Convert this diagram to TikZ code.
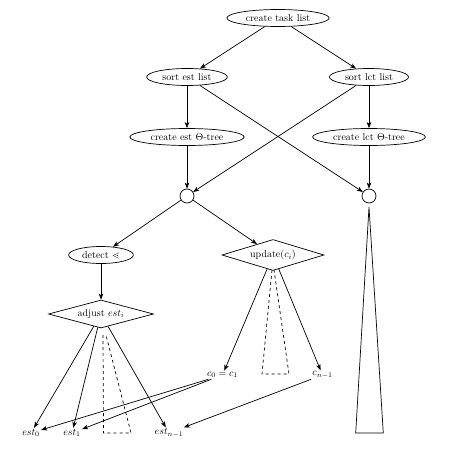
\documentclass[tikz,border=0pt]{standalone}
\usepackage{amssymb}
\usetikzlibrary{shapes.geometric,arrows.meta}
\begin{document}
\begin{tikzpicture}[x=1pt,y=-1pt,
  line width=0.7pt,
  oval/.style={draw,ellipse,inner xsep=4pt,inner ysep=1pt,minimum height=17pt},
  dia/.style={draw,diamond,inner sep=0pt},
  junc/.style={draw,circle,minimum size=14pt,inner sep=0pt},
  lbl/.style={inner sep=1pt},
  arr/.style={-{Stealth[length=6pt,width=4.5pt,inset=1.5pt]}},
  ghost/.style={dashed}
]
\useasboundingbox (0,0) rectangle (474,474);
\node[oval] (task) at (278,18) {create task list};
\node[oval] (sest) at (187,77) {sort est list};
\node[oval] (slct) at (369,77) {sort lct list};
\node[oval] (test) at (187,137) {create est $\Theta$-tree};
\node[oval] (tlct) at (369,137) {create lct $\Theta$-tree};
\node[junc] (cl) at (187,196) {};
\node[junc] (cr) at (369,196) {};
\node[oval] (det) at (101,255) {detect $\lessdot$};
\node[dia,aspect=3.3,minimum width=102pt,minimum height=31pt] (upd) at (273,255) {update($c_i$)};
\node[dia,aspect=3.75,minimum width=105pt,minimum height=28pt] (adj) at (101,314) {adjust $est_i$};
\node[lbl] (e0) at (31,433) {$est_0$};
\node[lbl] (e1) at (72,433) {$est_1$};
\node[lbl] (en) at (169,433) {$est_{n-1}$};
\node[lbl] (c01) at (222.5,375) {$c_0=c_1$};
\node[lbl] (cn) at (322.5,375) {$c_{n-1}$};
\coordinate (tapex) at (369,207);
\coordinate (tbl) at (355.7,433);
\coordinate (tbr) at (383.3,433);

\draw[arr] (task) -- (sest);
\draw[arr] (task) -- (slct);
\draw[arr] (sest) -- (test);
\draw[arr] (slct) -- (tlct);
\draw[arr] (sest) -- (cr);
\draw[arr] (slct) -- (cl);
\draw[arr] (test) -- (cl);
\draw[arr] (tlct) -- (cr);
\draw[arr] (cl) -- (det);
\draw[arr] (cl) -- (upd);
\draw[arr] (det) -- (adj);
\draw[arr] (adj) -- (e0);
\draw[arr] (adj) -- (e1);
\draw[arr] (adj) -- (en);
\draw[arr] (upd) -- (c01);
\draw[arr] (upd) -- (cn);
\draw[arr] (c01) -- (e0);
\draw[arr] (c01) -- (e1);
\draw[arr] (cn) -- (en);

\draw (tapex) -- (tbl) -- (tbr) -- cycle;
\draw[ghost] (103,335) -- (103.5,433) -- (131,433) -- (106,335);
\draw[ghost] (272,270) -- (262,374) -- (289,374) -- (274,270);
\end{tikzpicture}
\end{document}
